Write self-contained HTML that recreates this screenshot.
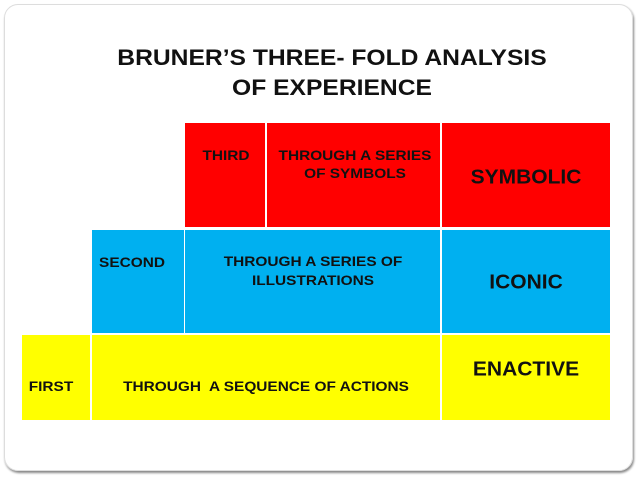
<!DOCTYPE html>
<html><head><style>
body{margin:0;width:637px;height:479px;background:#fff;position:relative;overflow:hidden;font-family:"Liberation Sans",Arial,sans-serif;font-weight:bold;}
.frame{position:absolute;left:4px;top:4px;width:627px;height:465px;border:1px solid #ddd;border-radius:14px;box-shadow:1px 2px 2px #888;}
.b{position:absolute;}
.t{position:absolute;white-space:nowrap;transform:translate(-50%,-50%);color:#111;}
.s{font-size:14px;transform:translate(-50%,-50%) scaleX(1.1);}
.l{font-size:20px;transform:translate(-50%,-50%) scaleX(1.05);}
.h{font-size:22px;transform:translate(-50%,-50%) scaleX(1.12);}
</style></head><body>
<div class="frame"></div>
<div class="t h" style="left:332px;top:58px;">BRUNER’S THREE- FOLD ANALYSIS</div>
<div class="t h" style="left:332px;top:88px;">OF EXPERIENCE</div>

<div class="b" style="left:185px;top:123px;width:80px;height:104px;background:#f00"></div>
<div class="b" style="left:267px;top:123px;width:173px;height:104px;background:#f00"></div>
<div class="b" style="left:442px;top:123px;width:168px;height:104px;background:#f00"></div>

<div class="b" style="left:92px;top:230px;width:92px;height:103px;background:#00b0f0"></div>
<div class="b" style="left:185px;top:230px;width:255px;height:103px;background:#00b0f0"></div>
<div class="b" style="left:442px;top:230px;width:168px;height:103px;background:#00b0f0"></div>

<div class="b" style="left:22px;top:335px;width:68px;height:85px;background:#ff0"></div>
<div class="b" style="left:92px;top:335px;width:348px;height:85px;background:#ff0"></div>
<div class="b" style="left:442px;top:335px;width:168px;height:85px;background:#ff0"></div>

<div class="t s" style="left:226px;top:155px;">THIRD</div>
<div class="t s" style="left:355px;top:155px;">THROUGH A SERIES</div>
<div class="t s" style="left:355px;top:173px;">OF SYMBOLS</div>
<div class="t l" style="left:526px;top:178px;">SYMBOLIC</div>

<div class="t s" style="left:132px;top:262px;">SECOND</div>
<div class="t s" style="left:313px;top:261px;">THROUGH A SERIES OF</div>
<div class="t s" style="left:313px;top:280px;">ILLUSTRATIONS</div>
<div class="t l" style="left:526px;top:283px;">ICONIC</div>

<div class="t s" style="left:51px;top:386px;">FIRST</div>
<div class="t s" style="left:266px;top:386px;">THROUGH&nbsp; A SEQUENCE OF ACTIONS</div>
<div class="t l" style="left:526px;top:370px;">ENACTIVE</div>
</body></html>
